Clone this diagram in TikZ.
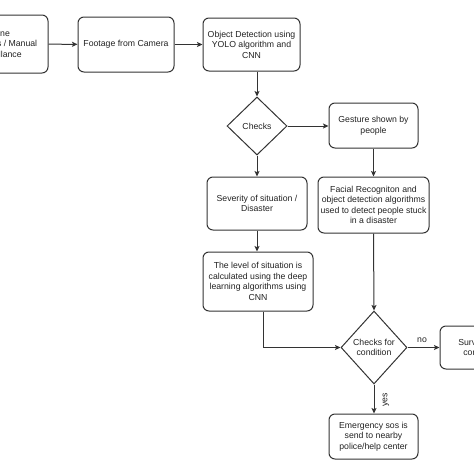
\documentclass[tikz,border=0pt]{standalone}
\usepackage{fontspec}
\setmainfont{Liberation Sans}
\usetikzlibrary{arrows.meta,shapes.geometric}
\definecolor{linec}{HTML}{333333}
\definecolor{txtc}{HTML}{222222}
\begin{document}
\begin{tikzpicture}[x=1pt,y=-1pt,
  fs/.style={font=\fontsize{8.7pt}{10.5pt}\selectfont},
  box/.style={draw=linec, rounded corners=6pt, line width=1pt, align=center, inner sep=0pt, text=txtc, fs},
  dia/.style={draw=linec, diamond, line width=1pt, align=center, inner sep=0pt, text=txtc, fs},
  arr/.style={draw=linec, line width=1pt, -{Stealth[length=5.5pt,width=5pt,inset=1.2pt]}},
  lbl/.style={text=txtc, fs, inner sep=0pt}]
\useasboundingbox (0,0) rectangle (474,474);
\clip (0,0) rectangle (474,474);
% boxes
\node[box, minimum width=100pt, minimum height=58pt] (src) at (-2,44) {Drone\\Live Feeds / Manual\\Surveillance};
\node[box, minimum width=96pt, minimum height=55pt] (cam) at (126,44.5) {Footage from Camera};
\node[box, minimum width=97pt, minimum height=53pt] (yolo) at (251.5,44.5) {Object Detection using\\YOLO algorithm and\\CNN};
\node[dia, minimum width=60pt, minimum height=58pt] (chk) at (257,126) {Checks};
\node[box, minimum width=89pt, minimum height=45pt] (gest) at (373.5,125.5) {Gesture shown by\\people};
\node[box, minimum width=100pt, minimum height=53pt] (sev) at (257,203.5) {Severity of situation /\\Disaster};
\node[box, minimum width=111pt, minimum height=56pt] (face) at (373.5,205) {Facial Recogniton and\\object detection algorithms\\used to detect people stuck\\in a disaster};
\node[box, minimum width=110pt, minimum height=59pt] (lvl) at (258,281.5) {The level of situation is\\calculated using the deep\\learning algorithms using\\CNN};
\node[dia, minimum width=66pt, minimum height=73pt] (cond) at (374,347.5) {Checks for\\condition};
\node[box, minimum width=84pt, minimum height=43pt] (surv) at (482,347.5) {Surveillance\\continues};
\node[box, minimum width=89pt, minimum height=45pt] (sos) at (373.5,436.5) {Emergency sos is\\send to nearby\\police/help center};
% connectors
\draw[arr] (src) -- (cam);
\draw[arr] (cam) -- (yolo);
\draw[arr] (yolo.south -| chk.north) -- (chk.north);
\draw[arr] (chk.east) -- (gest.west |- chk.east);
\draw[arr] (chk.south) -- (sev.north);
\draw[arr] (gest.south) -- (face.north -| gest.south);
\draw[arr] (sev.south) -- (lvl.north -| sev.south);
\draw[arr] ([xshift=5pt]lvl.south) |- (cond.west);
\draw[arr] (face.south) -- (cond.north);
\draw[arr] (cond.east) -- (surv.west |- cond.east);
\draw[arr] (cond.south) -- (sos.north -| cond.south);
\node[lbl] (no) at (422,340) {no};
\node[lbl, rotate=90] (yes) at (386,400) {yes};
\end{tikzpicture}
\end{document}
